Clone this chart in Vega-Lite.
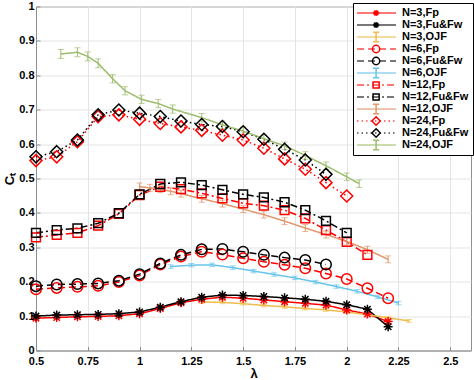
{
"$schema":"https://vega.github.io/schema/vega-lite/v6.json",
"width":435,"height":344,
"autosize":{"type":"none"},
"padding":{"left":36,"top":6.5,"right":3,"bottom":29.5},
"config":{
 "font":"Liberation Sans",
 "view":{"stroke":"#8f8f8f","strokeWidth":1},
 "axis":{"labelFont":"Liberation Sans","labelFontWeight":"bold","labelFontSize":11,"labelColor":"#000","titleFont":"Liberation Sans","titleFontWeight":"bold","titleFontSize":13,"titleColor":"#000","gridColor":"#e4e4e4","gridWidth":1,"domainColor":"#8f8f8f","tickColor":"#8f8f8f","tickSize":-4},
 "axisX":{"format":".3~g","labelPadding":9,"titlePadding":1,"labelFlush":false,"labelOverlap":false},
 "axisY":{"format":".2~g","labelPadding":6,"titlePadding":2,"labelFlush":false,"labelOverlap":false}
},
"datasets":{
"model":[
{"s":"N=3,Fp","m":"3p","x":0.5,"y":0.094},{"s":"N=3,Fp","m":"3p","x":0.6,"y":0.096},{"s":"N=3,Fp","m":"3p","x":0.7,"y":0.098},{"s":"N=3,Fp","m":"3p","x":0.8,"y":0.099},{"s":"N=3,Fp","m":"3p","x":0.9,"y":0.101},{"s":"N=3,Fp","m":"3p","x":1.0,"y":0.107},{"s":"N=3,Fp","m":"3p","x":1.1,"y":0.122},{"s":"N=3,Fp","m":"3p","x":1.2,"y":0.139},{"s":"N=3,Fp","m":"3p","x":1.3,"y":0.149},{"s":"N=3,Fp","m":"3p","x":1.4,"y":0.155},{"s":"N=3,Fp","m":"3p","x":1.5,"y":0.152},{"s":"N=3,Fp","m":"3p","x":1.6,"y":0.147},{"s":"N=3,Fp","m":"3p","x":1.7,"y":0.142},{"s":"N=3,Fp","m":"3p","x":1.8,"y":0.137},{"s":"N=3,Fp","m":"3p","x":1.9,"y":0.132},{"s":"N=3,Fp","m":"3p","x":2.0,"y":0.118},{"s":"N=3,Fp","m":"3p","x":2.1,"y":0.106},{"s":"N=3,Fp","m":"3p","x":2.2,"y":0.084},
{"s":"N=3,Fu&Fw","m":"3u","x":0.5,"y":0.100},{"s":"N=3,Fu&Fw","m":"3u","x":0.6,"y":0.103},{"s":"N=3,Fu&Fw","m":"3u","x":0.7,"y":0.104},{"s":"N=3,Fu&Fw","m":"3u","x":0.8,"y":0.105},{"s":"N=3,Fu&Fw","m":"3u","x":0.9,"y":0.107},{"s":"N=3,Fu&Fw","m":"3u","x":1.0,"y":0.112},{"s":"N=3,Fu&Fw","m":"3u","x":1.1,"y":0.126},{"s":"N=3,Fu&Fw","m":"3u","x":1.2,"y":0.142},{"s":"N=3,Fu&Fw","m":"3u","x":1.3,"y":0.155},{"s":"N=3,Fu&Fw","m":"3u","x":1.4,"y":0.161},{"s":"N=3,Fu&Fw","m":"3u","x":1.5,"y":0.160},{"s":"N=3,Fu&Fw","m":"3u","x":1.6,"y":0.157},{"s":"N=3,Fu&Fw","m":"3u","x":1.7,"y":0.153},{"s":"N=3,Fu&Fw","m":"3u","x":1.8,"y":0.149},{"s":"N=3,Fu&Fw","m":"3u","x":1.9,"y":0.143},{"s":"N=3,Fu&Fw","m":"3u","x":2.0,"y":0.133},{"s":"N=3,Fu&Fw","m":"3u","x":2.1,"y":0.120},{"s":"N=3,Fu&Fw","m":"3u","x":2.2,"y":0.069},
{"s":"N=6,Fp","m":"6p","x":0.5,"y":0.178},{"s":"N=6,Fp","m":"6p","x":0.6,"y":0.182},{"s":"N=6,Fp","m":"6p","x":0.7,"y":0.185},{"s":"N=6,Fp","m":"6p","x":0.8,"y":0.188},{"s":"N=6,Fp","m":"6p","x":0.9,"y":0.199},{"s":"N=6,Fp","m":"6p","x":1.0,"y":0.218},{"s":"N=6,Fp","m":"6p","x":1.1,"y":0.250},{"s":"N=6,Fp","m":"6p","x":1.2,"y":0.273},{"s":"N=6,Fp","m":"6p","x":1.3,"y":0.287},{"s":"N=6,Fp","m":"6p","x":1.4,"y":0.279},{"s":"N=6,Fp","m":"6p","x":1.5,"y":0.268},{"s":"N=6,Fp","m":"6p","x":1.6,"y":0.258},{"s":"N=6,Fp","m":"6p","x":1.7,"y":0.249},{"s":"N=6,Fp","m":"6p","x":1.8,"y":0.239},{"s":"N=6,Fp","m":"6p","x":1.9,"y":0.224},{"s":"N=6,Fp","m":"6p","x":2.0,"y":0.208},{"s":"N=6,Fp","m":"6p","x":2.1,"y":0.181},{"s":"N=6,Fp","m":"6p","x":2.2,"y":0.152},
{"s":"N=6,Fu&Fw","m":"6u","x":0.5,"y":0.187},{"s":"N=6,Fu&Fw","m":"6u","x":0.6,"y":0.192},{"s":"N=6,Fu&Fw","m":"6u","x":0.7,"y":0.193},{"s":"N=6,Fu&Fw","m":"6u","x":0.8,"y":0.195},{"s":"N=6,Fu&Fw","m":"6u","x":0.9,"y":0.203},{"s":"N=6,Fu&Fw","m":"6u","x":1.0,"y":0.222},{"s":"N=6,Fu&Fw","m":"6u","x":1.1,"y":0.253},{"s":"N=6,Fu&Fw","m":"6u","x":1.2,"y":0.278},{"s":"N=6,Fu&Fw","m":"6u","x":1.3,"y":0.294},{"s":"N=6,Fu&Fw","m":"6u","x":1.4,"y":0.295},{"s":"N=6,Fu&Fw","m":"6u","x":1.5,"y":0.287},{"s":"N=6,Fu&Fw","m":"6u","x":1.6,"y":0.278},{"s":"N=6,Fu&Fw","m":"6u","x":1.7,"y":0.270},{"s":"N=6,Fu&Fw","m":"6u","x":1.8,"y":0.263},{"s":"N=6,Fu&Fw","m":"6u","x":1.9,"y":0.250},
{"s":"N=12,Fp","m":"12p","x":0.5,"y":0.329},{"s":"N=12,Fp","m":"12p","x":0.6,"y":0.336},{"s":"N=12,Fp","m":"12p","x":0.7,"y":0.342},{"s":"N=12,Fp","m":"12p","x":0.8,"y":0.363},{"s":"N=12,Fp","m":"12p","x":0.9,"y":0.397},{"s":"N=12,Fp","m":"12p","x":1.0,"y":0.452},{"s":"N=12,Fp","m":"12p","x":1.1,"y":0.476},{"s":"N=12,Fp","m":"12p","x":1.2,"y":0.469},{"s":"N=12,Fp","m":"12p","x":1.3,"y":0.457},{"s":"N=12,Fp","m":"12p","x":1.4,"y":0.442},{"s":"N=12,Fp","m":"12p","x":1.5,"y":0.428},{"s":"N=12,Fp","m":"12p","x":1.6,"y":0.421},{"s":"N=12,Fp","m":"12p","x":1.7,"y":0.408},{"s":"N=12,Fp","m":"12p","x":1.8,"y":0.384},{"s":"N=12,Fp","m":"12p","x":1.9,"y":0.350},{"s":"N=12,Fp","m":"12p","x":2.0,"y":0.316},{"s":"N=12,Fp","m":"12p","x":2.1,"y":0.278},
{"s":"N=12,Fu&Fw","m":"12u","x":0.5,"y":0.342},{"s":"N=12,Fu&Fw","m":"12u","x":0.6,"y":0.350},{"s":"N=12,Fu&Fw","m":"12u","x":0.7,"y":0.355},{"s":"N=12,Fu&Fw","m":"12u","x":0.8,"y":0.370},{"s":"N=12,Fu&Fw","m":"12u","x":0.9,"y":0.399},{"s":"N=12,Fu&Fw","m":"12u","x":1.0,"y":0.454},{"s":"N=12,Fu&Fw","m":"12u","x":1.1,"y":0.484},{"s":"N=12,Fu&Fw","m":"12u","x":1.2,"y":0.489},{"s":"N=12,Fu&Fw","m":"12u","x":1.3,"y":0.481},{"s":"N=12,Fu&Fw","m":"12u","x":1.4,"y":0.467},{"s":"N=12,Fu&Fw","m":"12u","x":1.5,"y":0.454},{"s":"N=12,Fu&Fw","m":"12u","x":1.6,"y":0.445},{"s":"N=12,Fu&Fw","m":"12u","x":1.7,"y":0.431},{"s":"N=12,Fu&Fw","m":"12u","x":1.8,"y":0.408},{"s":"N=12,Fu&Fw","m":"12u","x":1.9,"y":0.377},{"s":"N=12,Fu&Fw","m":"12u","x":2.0,"y":0.342},
{"s":"N=24,Fp","m":"24p","x":0.5,"y":0.552},{"s":"N=24,Fp","m":"24p","x":0.6,"y":0.563},{"s":"N=24,Fp","m":"24p","x":0.7,"y":0.607},{"s":"N=24,Fp","m":"24p","x":0.8,"y":0.680},{"s":"N=24,Fp","m":"24p","x":0.9,"y":0.685},{"s":"N=24,Fp","m":"24p","x":1.0,"y":0.672},{"s":"N=24,Fp","m":"24p","x":1.1,"y":0.660},{"s":"N=24,Fp","m":"24p","x":1.2,"y":0.650},{"s":"N=24,Fp","m":"24p","x":1.3,"y":0.640},{"s":"N=24,Fp","m":"24p","x":1.4,"y":0.626},{"s":"N=24,Fp","m":"24p","x":1.5,"y":0.612},{"s":"N=24,Fp","m":"24p","x":1.6,"y":0.588},{"s":"N=24,Fp","m":"24p","x":1.7,"y":0.557},{"s":"N=24,Fp","m":"24p","x":1.8,"y":0.527},{"s":"N=24,Fp","m":"24p","x":1.9,"y":0.488},{"s":"N=24,Fp","m":"24p","x":2.0,"y":0.449},
{"s":"N=24,Fu&Fw","m":"24u","x":0.5,"y":0.563},{"s":"N=24,Fu&Fw","m":"24u","x":0.6,"y":0.578},{"s":"N=24,Fu&Fw","m":"24u","x":0.7,"y":0.612},{"s":"N=24,Fu&Fw","m":"24u","x":0.8,"y":0.685},{"s":"N=24,Fu&Fw","m":"24u","x":0.9,"y":0.699},{"s":"N=24,Fu&Fw","m":"24u","x":1.0,"y":0.690},{"s":"N=24,Fu&Fw","m":"24u","x":1.1,"y":0.680},{"s":"N=24,Fu&Fw","m":"24u","x":1.2,"y":0.667},{"s":"N=24,Fu&Fw","m":"24u","x":1.3,"y":0.657},{"s":"N=24,Fu&Fw","m":"24u","x":1.4,"y":0.651},{"s":"N=24,Fu&Fw","m":"24u","x":1.5,"y":0.636},{"s":"N=24,Fu&Fw","m":"24u","x":1.6,"y":0.614},{"s":"N=24,Fu&Fw","m":"24u","x":1.7,"y":0.585},{"s":"N=24,Fu&Fw","m":"24u","x":1.8,"y":0.554},{"s":"N=24,Fu&Fw","m":"24u","x":1.9,"y":0.512}
],
"ojf":[
{"s":"N=3,OJF","x":1.3,"y":0.141,"lo":0.137,"hi":0.145},{"s":"N=3,OJF","x":1.4,"y":0.140,"lo":0.136,"hi":0.144},{"s":"N=3,OJF","x":1.5,"y":0.136,"lo":0.132,"hi":0.140},{"s":"N=3,OJF","x":1.6,"y":0.131,"lo":0.127,"hi":0.135},{"s":"N=3,OJF","x":1.7,"y":0.127,"lo":0.123,"hi":0.131},{"s":"N=3,OJF","x":1.8,"y":0.122,"lo":0.118,"hi":0.126},{"s":"N=3,OJF","x":1.9,"y":0.118,"lo":0.114,"hi":0.122},{"s":"N=3,OJF","x":2.0,"y":0.112,"lo":0.108,"hi":0.116},{"s":"N=3,OJF","x":2.1,"y":0.104,"lo":0.100,"hi":0.108},{"s":"N=3,OJF","x":2.2,"y":0.095,"lo":0.091,"hi":0.099},{"s":"N=3,OJF","x":2.3,"y":0.086,"lo":0.082,"hi":0.090},
{"s":"N=6,OJF","x":1.15,"y":0.244,"lo":0.239,"hi":0.249},{"s":"N=6,OJF","x":1.25,"y":0.248,"lo":0.243,"hi":0.253},{"s":"N=6,OJF","x":1.35,"y":0.249,"lo":0.244,"hi":0.254},{"s":"N=6,OJF","x":1.45,"y":0.241,"lo":0.236,"hi":0.246},{"s":"N=6,OJF","x":1.55,"y":0.231,"lo":0.226,"hi":0.236},{"s":"N=6,OJF","x":1.65,"y":0.221,"lo":0.216,"hi":0.226},{"s":"N=6,OJF","x":1.75,"y":0.211,"lo":0.206,"hi":0.216},{"s":"N=6,OJF","x":1.85,"y":0.199,"lo":0.194,"hi":0.204},{"s":"N=6,OJF","x":1.95,"y":0.186,"lo":0.181,"hi":0.191},{"s":"N=6,OJF","x":2.05,"y":0.172,"lo":0.167,"hi":0.177},{"s":"N=6,OJF","x":2.15,"y":0.156,"lo":0.151,"hi":0.161},{"s":"N=6,OJF","x":2.25,"y":0.138,"lo":0.133,"hi":0.143},
{"s":"N=12,OJF","x":1.0,"y":0.476,"lo":0.465,"hi":0.487},{"s":"N=12,OJF","x":1.05,"y":0.473,"lo":0.463,"hi":0.483},{"s":"N=12,OJF","x":1.1,"y":0.469,"lo":0.459,"hi":0.479},{"s":"N=12,OJF","x":1.15,"y":0.463,"lo":0.453,"hi":0.473},{"s":"N=12,OJF","x":1.2,"y":0.456,"lo":0.446,"hi":0.466},{"s":"N=12,OJF","x":1.3,"y":0.441,"lo":0.431,"hi":0.451},{"s":"N=12,OJF","x":1.4,"y":0.427,"lo":0.417,"hi":0.437},{"s":"N=12,OJF","x":1.5,"y":0.411,"lo":0.401,"hi":0.421},{"s":"N=12,OJF","x":1.6,"y":0.395,"lo":0.385,"hi":0.405},{"s":"N=12,OJF","x":1.7,"y":0.376,"lo":0.366,"hi":0.386},{"s":"N=12,OJF","x":1.8,"y":0.356,"lo":0.346,"hi":0.366},{"s":"N=12,OJF","x":1.9,"y":0.337,"lo":0.327,"hi":0.347},{"s":"N=12,OJF","x":2.0,"y":0.317,"lo":0.307,"hi":0.327},{"s":"N=12,OJF","x":2.1,"y":0.293,"lo":0.283,"hi":0.303},{"s":"N=12,OJF","x":2.2,"y":0.265,"lo":0.255,"hi":0.275},
{"s":"N=24,OJF","x":0.62,"y":0.862,"lo":0.849,"hi":0.875},{"s":"N=24,OJF","x":0.7,"y":0.867,"lo":0.854,"hi":0.880},{"s":"N=24,OJF","x":0.75,"y":0.855,"lo":0.842,"hi":0.868},{"s":"N=24,OJF","x":0.8,"y":0.835,"lo":0.822,"hi":0.848},{"s":"N=24,OJF","x":0.87,"y":0.790,"lo":0.778,"hi":0.802},{"s":"N=24,OJF","x":0.93,"y":0.755,"lo":0.743,"hi":0.767},{"s":"N=24,OJF","x":1.01,"y":0.730,"lo":0.718,"hi":0.742},{"s":"N=24,OJF","x":1.09,"y":0.718,"lo":0.706,"hi":0.730},{"s":"N=24,OJF","x":1.16,"y":0.702,"lo":0.690,"hi":0.714},{"s":"N=24,OJF","x":1.3,"y":0.677,"lo":0.665,"hi":0.689},{"s":"N=24,OJF","x":1.4,"y":0.656,"lo":0.645,"hi":0.667},{"s":"N=24,OJF","x":1.5,"y":0.638,"lo":0.627,"hi":0.649},{"s":"N=24,OJF","x":1.6,"y":0.616,"lo":0.605,"hi":0.627},{"s":"N=24,OJF","x":1.7,"y":0.595,"lo":0.584,"hi":0.606},{"s":"N=24,OJF","x":1.8,"y":0.567,"lo":0.556,"hi":0.578},{"s":"N=24,OJF","x":1.9,"y":0.537,"lo":0.526,"hi":0.548},{"s":"N=24,OJF","x":2.0,"y":0.505,"lo":0.494,"hi":0.516},{"s":"N=24,OJF","x":2.06,"y":0.485,"lo":0.474,"hi":0.496}
]},
"layer":[
{"data":{"name":"model"},"mark":{"type":"line","strokeWidth":1.5},
 "encoding":{
  "x":{"field":"x","type":"quantitative","scale":{"domain":[0.5,2.6],"nice":false,"zero":false},"title":"λ","axis":{"values":[0.5,0.75,1,1.25,1.5,1.75,2,2.25,2.5]}},
  "y":{"field":"y","type":"quantitative","scale":{"domain":[0,1],"nice":false},"title":"Cₜ"},
  "color":{"field":"s","type":"nominal","scale":{"domain":["N=3,Fp","N=3,Fu&Fw","N=3,OJF","N=6,Fp","N=6,Fu&Fw","N=6,OJF","N=12,Fp","N=12,Fu&Fw","N=12,OJF","N=24,Fp","N=24,Fu&Fw","N=24,OJF"],"range":["#ff0000","#000000","#f0bc4c","#ff0000","#000000","#66c4ea","#ff0000","#000000","#e0956a","#ff0000","#000000","#9cbd6c"]},
   "legend":{"title":null,"orient":"none","legendX":317,"legendY":-3.5,"padding":4,"fillColor":"#ffffff","strokeColor":"#000000","symbolType":"M-6.5,0H6.5","symbolSize":36,"symbolStrokeWidth":1.5,"symbolOffset":14,"labelOffset":20,"labelFont":"Liberation Sans","labelFontSize":11,"labelFontWeight":"bold","labelColor":"#000000","rowPadding":-1.1,"clipHeight":12,"labelLimit":200}},
  "strokeDash":{"field":"s","type":"nominal","scale":{"domain":["N=3,Fp","N=3,Fu&Fw","N=3,OJF","N=6,Fp","N=6,Fu&Fw","N=6,OJF","N=12,Fp","N=12,Fu&Fw","N=12,OJF","N=24,Fp","N=24,Fu&Fw","N=24,OJF"],"range":[[1,0],[1,0],[1,0],[7,4],[7,4],[1,0],[7,3,2,3],[7,3,2,3],[1,0],[1.5,3],[1.5,3],[1,0]]},
   "legend":{"title":null,"orient":"none","legendX":317,"legendY":-3.5,"padding":4,"fillColor":"#ffffff","strokeColor":"#000000","symbolType":"M-6.5,0H6.5","symbolSize":36,"symbolStrokeWidth":1.5,"symbolOffset":14,"labelOffset":20,"labelFont":"Liberation Sans","labelFontSize":11,"labelFontWeight":"bold","labelColor":"#000000","rowPadding":-1.1,"clipHeight":12,"labelLimit":200}}
 }},
{"data":{"name":"ojf"},"mark":{"type":"line","strokeWidth":1.5},
 "encoding":{"x":{"field":"x","type":"quantitative","title":"λ"},"y":{"field":"y","type":"quantitative","title":"Cₜ"},"color":{"field":"s","type":"nominal"},"strokeDash":{"field":"s","type":"nominal"}}},
{"data":{"name":"ojf"},"mark":{"type":"rule","strokeWidth":1},
 "encoding":{"x":{"field":"x","type":"quantitative","title":"λ"},"y":{"field":"lo","type":"quantitative","title":"Cₜ"},"y2":{"field":"hi"},"color":{"field":"s","type":"nominal"}}},
{"data":{"name":"ojf"},"mark":{"type":"tick","orient":"horizontal","size":6,"thickness":1},
 "encoding":{"x":{"field":"x","type":"quantitative","title":"λ"},"y":{"field":"lo","type":"quantitative","title":"Cₜ"},"color":{"field":"s","type":"nominal"}}},
{"data":{"name":"ojf"},"mark":{"type":"tick","orient":"horizontal","size":6,"thickness":1},
 "encoding":{"x":{"field":"x","type":"quantitative","title":"λ"},"y":{"field":"hi","type":"quantitative","title":"Cₜ"},"color":{"field":"s","type":"nominal"}}},
{"data":{"name":"model"},"mark":{"type":"point","filled":false,"strokeWidth":1.5,"size":100,"opacity":1},
 "encoding":{"x":{"field":"x","type":"quantitative","title":"λ"},"y":{"field":"y","type":"quantitative","title":"Cₜ"},
  "stroke":{"field":"m","type":"nominal","scale":{"domain":["3p","3u","3o","6p","6u","6o","12p","12u","12o","24p","24u","24o"],"range":["#ff0000","#000000","#f0bc4c","#ff0000","#000000","#66c4ea","#ff0000","#000000","#e0956a","#ff0000","#000000","#9cbd6c"]},
   "legend":{"title":null,"orient":"none","legendX":317,"legendY":-3.5,"padding":4,"symbolSize":48,"symbolStrokeWidth":1.5,"symbolOffset":13.6,"labelExpr":"' '","labelOffset":20,"labelFont":"Liberation Sans","labelFontSize":11,"labelFontWeight":"bold","rowPadding":-1.1,"clipHeight":12}},
  "shape":{"field":"m","type":"nominal","scale":{"domain":["3p","3u","3o","6p","6u","6o","12p","12u","12o","24p","24u","24o"],"range":["M-0.9,0H0.9M0,-0.9V0.9M-0.64,-0.64L0.64,0.64M-0.64,0.64L0.64,-0.64","M-0.9,0H0.9M0,-0.9V0.9M-0.64,-0.64L0.64,0.64M-0.64,0.64L0.64,-0.64","M-0.9,-1.4H0.9M0,-1.4V1.4M-0.9,1.4H0.9","M-1.05,0A1.05,1.05,0,1,1,1.05,0A1.05,1.05,0,1,1,-1.05,0Z","M-1.05,0A1.05,1.05,0,1,1,1.05,0A1.05,1.05,0,1,1,-1.05,0Z","M-0.9,-1.4H0.9M0,-1.4V1.4M-0.9,1.4H0.9","M-0.88,-0.88H0.88V0.88H-0.88Z","M-0.88,-0.88H0.88V0.88H-0.88Z","M-0.9,-1.4H0.9M0,-1.4V1.4M-0.9,1.4H0.9","M0,-1.2L1.2,0L0,1.2L-1.2,0Z","M0,-1.2L1.2,0L0,1.2L-1.2,0Z","M-0.9,-1.4H0.9M0,-1.4V1.4M-0.9,1.4H0.9"]},
   "legend":{"title":null,"orient":"none","legendX":317,"legendY":-3.5,"padding":4,"symbolSize":48,"symbolStrokeWidth":1.5,"symbolOffset":13.6,"labelExpr":"' '","labelOffset":20,"labelFont":"Liberation Sans","labelFontSize":11,"labelFontWeight":"bold","rowPadding":-1.1,"clipHeight":12}}
 }}
]
}
